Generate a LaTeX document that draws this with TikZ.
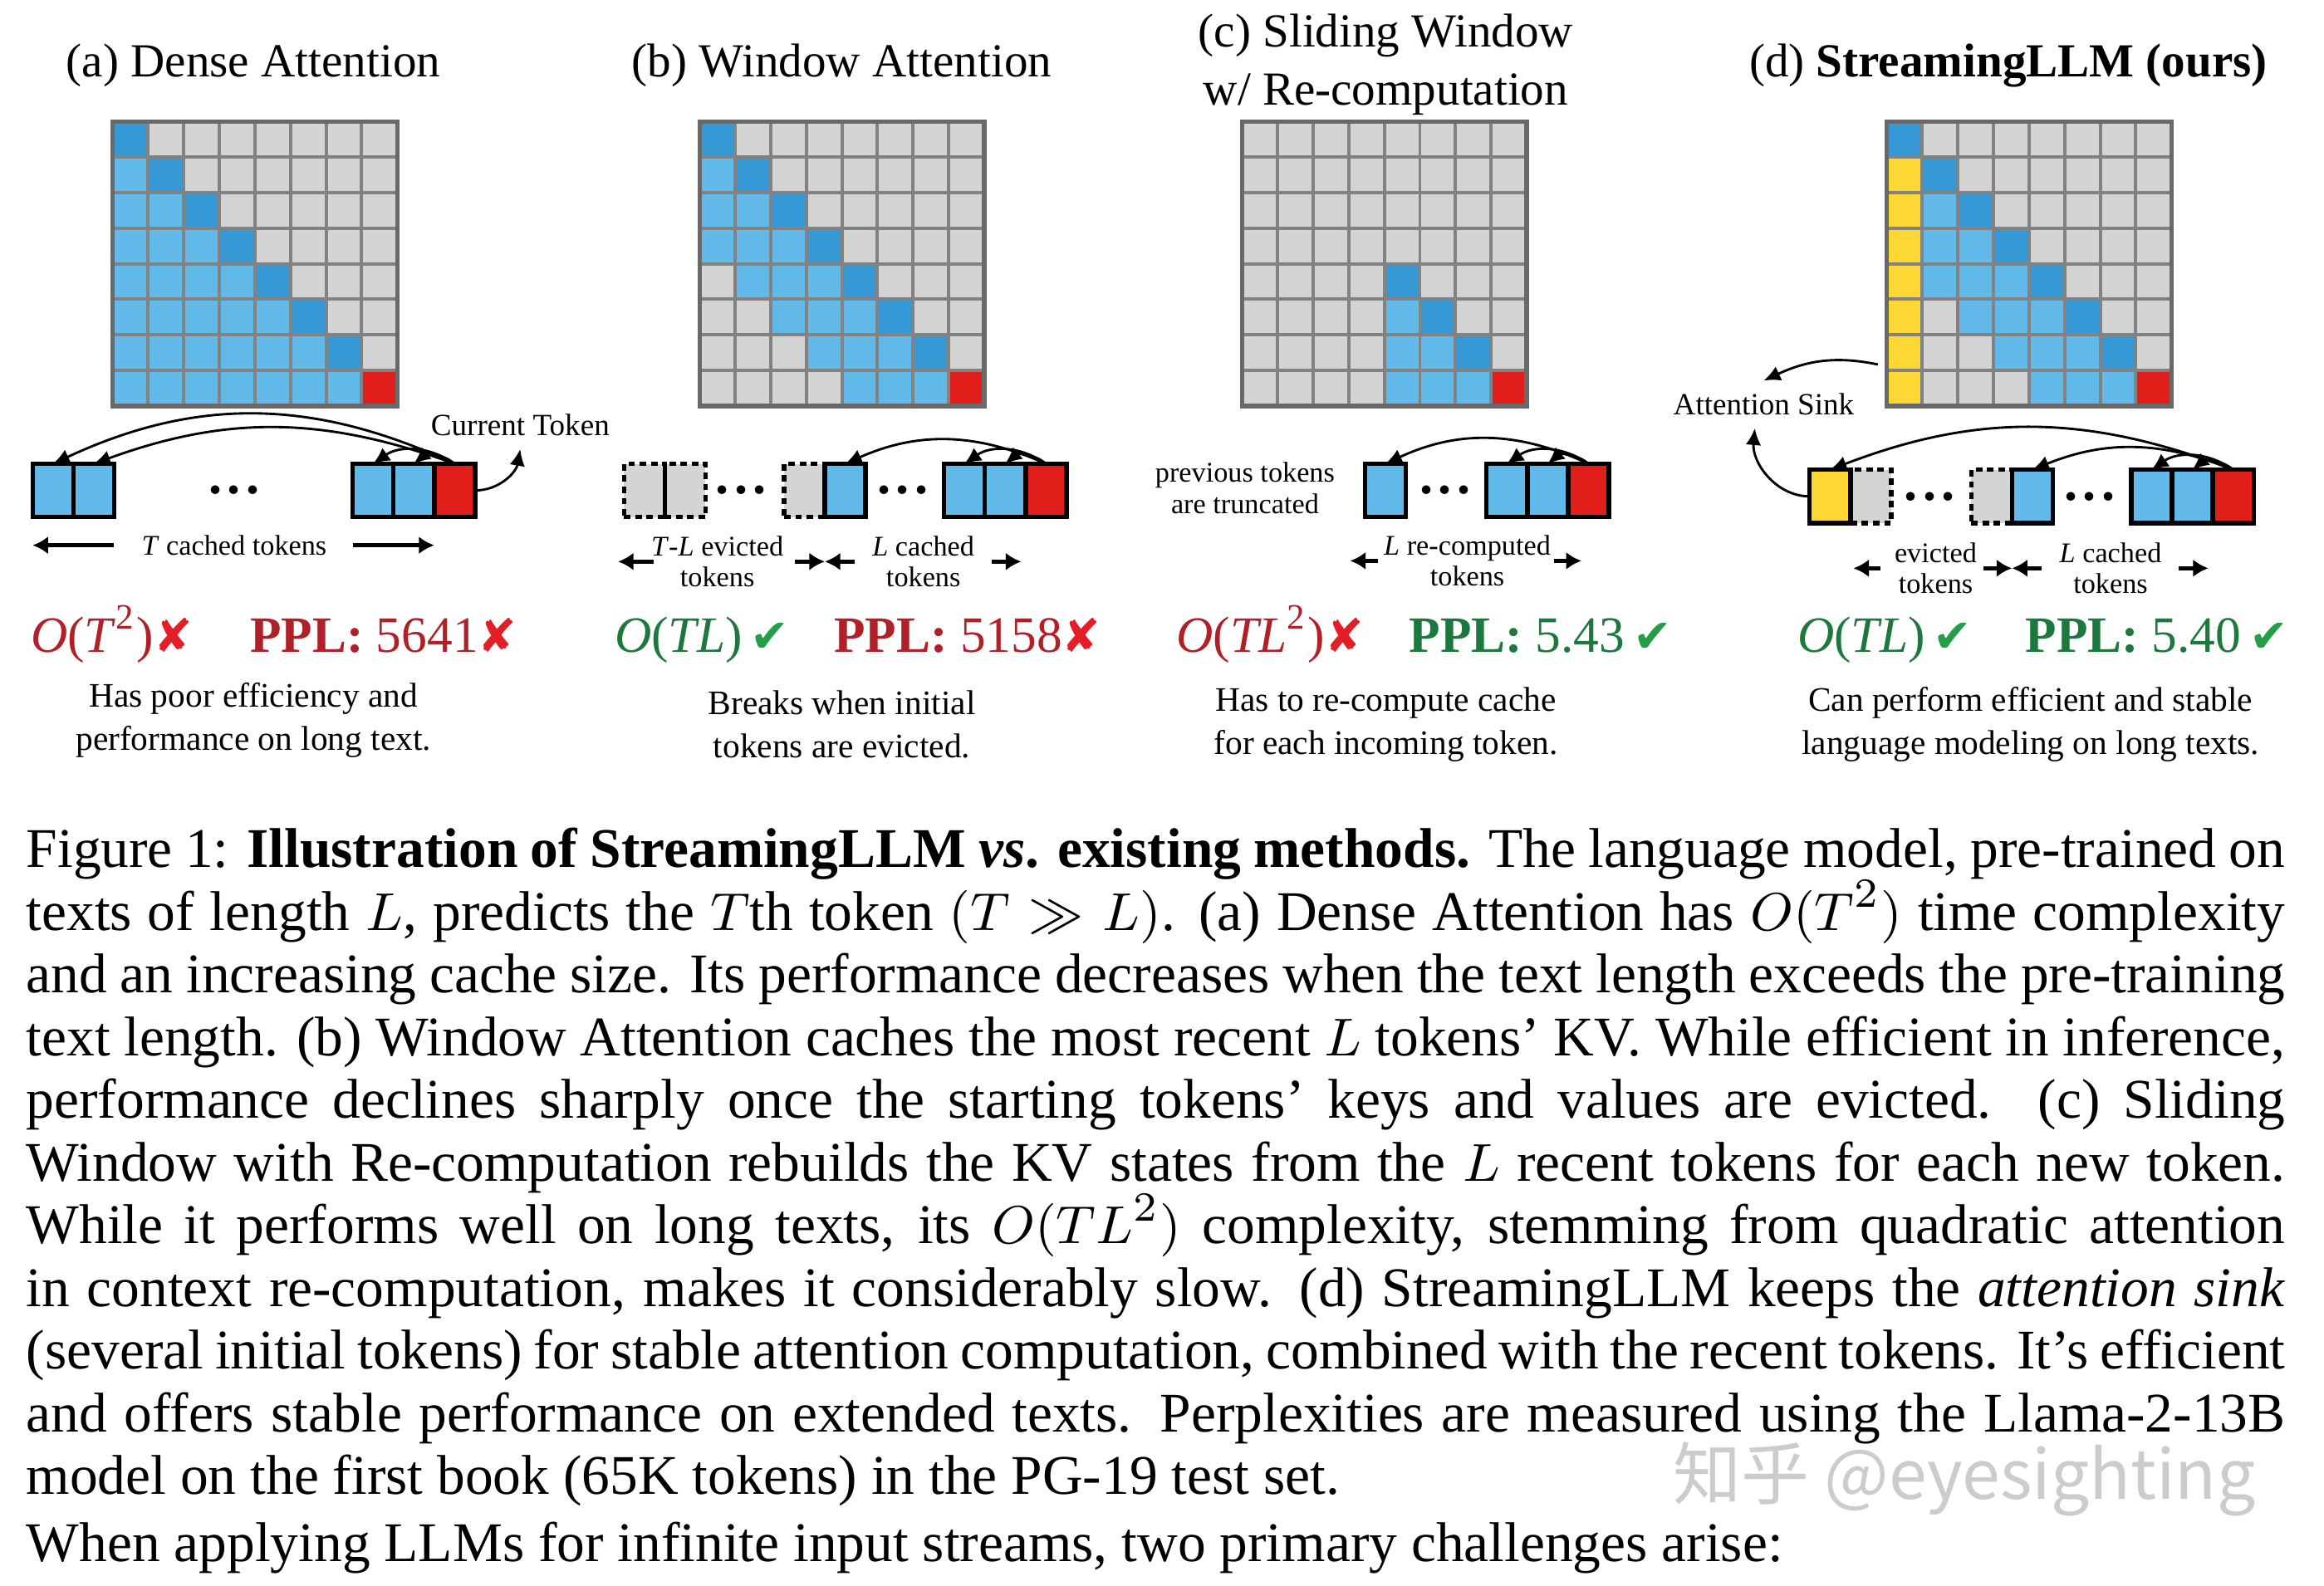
\documentclass[tikz,border=0pt]{standalone}
\usepackage{fontspec}
\setmainfont{Liberation Serif}
\newfontfamily\symfont{DejaVu Sans}
\newfontfamily\cjkfont{Noto Sans CJK SC}
\usetikzlibrary{positioning, arrows.meta}
\definecolor{cgrid}{RGB}{130,130,130}
\definecolor{cframe}{RGB}{105,105,105}
\definecolor{cg}{RGB}{212,212,212}
\definecolor{cl}{RGB}{98,186,234}
\definecolor{cd}{RGB}{54,153,213}
\definecolor{cr}{RGB}{226,30,27}
\definecolor{cy}{RGB}{253,216,53}
\definecolor{cbad}{RGB}{176,32,40}
\definecolor{cgood}{RGB}{28,120,60}
\definecolor{ccross}{RGB}{228,30,38}
\definecolor{ccheck}{RGB}{38,158,72}
\tikzset{
Token/.style={
	draw, line width=0.75pt,
	minimum width=6.875pt, minimum height=9pt,
	inner sep=0, outer sep=0,
	fill=cl
},
RedToken/.style={
	Token,
	fill=cr
},
SinkToken/.style={
	Token,
	fill=cy
},
Evicted/.style={
	Token,
	fill=cg,
	dash pattern=on 1.1pt off 0.8pt
},
Attn/.style={
	-{Latex[length=2.8pt,width=2.6pt]},
	line width=0.4pt
},
Span/.style={
	-{Latex[length=2.6pt,width=3pt]},
	line width=0.7pt
},
Title/.style={
	font=\fontsize{8}{9.75}\selectfont,
	align=center
},
Label/.style={
	font=\fontsize{5.2}{6}\selectfont,
	inner sep=2pt
},
Small/.style={
	font=\fontsize{4.8}{5.25}\selectfont,
	align=center, inner sep=0
},
Dots/.style={
	font=\fontsize{9}{9}\selectfont\bfseries,
	inner sep=0
},
Metric/.style={
	font=\fontsize{8.6}{10}\selectfont,
	anchor=base west, inner sep=0
},
Desc/.style={
	font=\fontsize{5.8}{7.25}\selectfont,
	align=center
},
Caption/.style={
	font=\fontsize{9.45}{10.5}\selectfont,
	anchor=base west, inner sep=0
}
}
\newcommand{\Bad}{{\symfont\fontsize{7.8}{7.8}\selectfont\color{ccross}✘}}
\newcommand{\Good}{{\symfont\fontsize{7.8}{7.8}\selectfont\color{ccheck}✔}}
\newcommand{\capline}[1]{\makebox[381pt][s]{#1}}
% attention map: left, top, rows of cell colours
\newcommand{\attgrid}[3]{%
	\foreach \row [count=\i] in {#3} {
		\foreach \cel [count=\j] in \row {
			\fill[fill=c\cel] ({#1+(\j-1)*24},{#2+(\i-1)*24}) rectangle ++(24,24);
		}
	}
	\foreach \k in {1,...,7} {
		\draw[cgrid, line width=0.55pt] ({#1+\k*24},#2) -- ++(0,192);
		\draw[cgrid, line width=0.55pt] (#1,{#2+\k*24}) -- ++(192,0);
	}
	\draw[cframe, line width=0.75pt] (#1,#2) rectangle ++(192,192);
}

\begin{document}
\begin{tikzpicture}[x=0.25pt, y=-0.25pt]
	\useasboundingbox (0,0) rectangle (1568,1070);
	\fill[white] (0,0) rectangle (1568,1070);

	\node[Title] (ta) at (171,44) {(a) Dense Attention};
	\node[Title] (tb) at (568,44) {(b) Window Attention};
	\node[Title] (tc) at (935,43.5) {(c) Sliding Window\\w/ Re-computation};
	\node[Title] (td) at (1355,44) {(d) \textbf{StreamingLLM (ours)}};

	\attgrid{76}{82}{{d,g,g,g,g,g,g,g},{l,d,g,g,g,g,g,g},{l,l,d,g,g,g,g,g},{l,l,l,d,g,g,g,g},
		{l,l,l,l,d,g,g,g},{l,l,l,l,l,d,g,g},{l,l,l,l,l,l,d,g},{l,l,l,l,l,l,l,r}}
	\attgrid{472}{82}{{d,g,g,g,g,g,g,g},{l,d,g,g,g,g,g,g},{l,l,d,g,g,g,g,g},{l,l,l,d,g,g,g,g},
		{g,l,l,l,d,g,g,g},{g,g,l,l,l,d,g,g},{g,g,g,l,l,l,d,g},{g,g,g,g,l,l,l,r}}
	\attgrid{838}{82}{{g,g,g,g,g,g,g,g},{g,g,g,g,g,g,g,g},{g,g,g,g,g,g,g,g},{g,g,g,g,g,g,g,g},
		{g,g,g,g,d,g,g,g},{g,g,g,g,l,d,g,g},{g,g,g,g,l,l,d,g},{g,g,g,g,l,l,l,r}}
	\attgrid{1273}{82}{{d,g,g,g,g,g,g,g},{y,d,g,g,g,g,g,g},{y,l,d,g,g,g,g,g},{y,l,l,d,g,g,g,g},
		{y,l,l,l,d,g,g,g},{y,g,l,l,l,d,g,g},{y,g,g,l,l,l,d,g},{y,g,g,g,l,l,l,r}}

	% (a) dense
	\node[Token] (a1) at (35.75,331) {};
	\node[Token, right=0pt of a1] (a2) {};
	\node[Dots] (da) at (158,331) {.\hspace{0.9pt}.\hspace{0.9pt}.};
	\node[Token] (a3) at (251.75,331) {};
	\node[Token, right=0pt of a3] (a4) {};
	\node[RedToken, right=0pt of a4] (a5) {};
	\draw[Attn] (a5.north) to[bend right=25] (a1.north);
	\draw[Attn] (a5.north) to[bend right=20] (a2.north);
	\draw[Attn] (a5.north) to[bend right=35] (a3.north);
	\draw[Attn] (a5.north) to[bend right=40] (a4.north);
	\node[Label] (cur) at (351,287) {Current Token};
	\draw[Attn] (a5.east) to[out=0, in=-100] (cur.south);
	\node[Small] (ca) at (158,368) {\textit{T} cached tokens};
	\draw[Span] (a2.east |- ca) -- (a1.west |- ca);
	\draw[Span] (a3.west |- ca) -- (a4.east |- ca);
	\node[Metric, text=cbad] (oa) at (20,440) {\textit{O}(\textit{T}\textsuperscript{2})\Bad};
	\node[Metric, text=cbad] (pa) at (168,440) {\textbf{PPL:} 5641\Bad};
	\node[Desc] (ha) at (171,486) {Has poor efficiency and\\performance on long text.};

	% (b) window
	\node[Evicted] (b1) at (434.75,331) {};
	\node[Evicted, right=0pt of b1] (b2) {};
	\draw[line width=0.75pt] (b1.north east) -- (b1.south east);
	\node[Dots] (db1) at (500,331) {.\hspace{0.9pt}.\hspace{0.9pt}.};
	\node[Evicted] (b3) at (542.75,331) {};
	\node[Token, right=0pt of b3] (b4) {};
	\node[Dots] (db2) at (609,331) {.\hspace{0.9pt}.\hspace{0.9pt}.};
	\node[Token] (b5) at (650.75,331) {};
	\node[Token, right=0pt of b5] (b6) {};
	\node[RedToken, right=0pt of b6] (b7) {};
	\draw[Attn] (b7.north) to[bend right=24] (b4.north);
	\draw[Attn] (b7.north) to[bend right=35] (b5.north);
	\draw[Attn] (b7.north) to[bend right=40] (b6.north);
	\node[Small] (evb) at (484,379) {\textit{T}-\textit{L} evicted\\tokens};
	\node[Small] (lcb) at (623,379) {\textit{L} cached\\tokens};
	\draw[Span] ([xshift=5pt]b1.west |- evb) -- ([xshift=-1pt]b1.west |- evb);
	\draw[Span] ([xshift=-5pt]b3.east |- evb) -- (b3.east |- evb);
	\draw[Span] ([xshift=5pt]b4.west |- lcb) -- (b4.west |- lcb);
	\draw[Span] ([xshift=-5.75pt]b6.east |- lcb) -- ([xshift=-0.75pt]b6.east |- lcb);
	\node[Metric, text=cgood] (ob) at (414,440) {\textit{O}(\textit{TL})\,\Good};
	\node[Metric, text=cbad] (pb) at (562,440) {\textbf{PPL:} 5158\Bad};
	\node[Desc] (hb) at (568,489) {Breaks when initial\\tokens are evicted.};

	% (c) sliding window with re-computation
	\node[Small] (prev) at (840,329.5) {previous tokens\\are truncated};
	\node[Token] (c1) at (934.75,331) {};
	\node[Dots] (dc) at (975,331) {.\hspace{0.9pt}.\hspace{0.9pt}.};
	\node[Token] (c2) at (1016.75,331) {};
	\node[Token, right=0pt of c2] (c3) {};
	\node[RedToken, right=0pt of c3] (c4) {};
	\draw[Attn] (c4.north) to[bend right=25] (c1.north);
	\draw[Attn] (c4.north) to[bend right=35] (c2.north);
	\draw[Attn] (c4.north) to[bend right=40] (c3.north);
	\node[Small] (rc) at (990,378.5) {\textit{L} re-computed\\tokens};
	\draw[Span] ([xshift=-0.8pt]rc.west) -- ([xshift=-5.5pt]rc.west);
	\draw[Span] ([xshift=0.3pt]rc.east) -- ([xshift=5pt]rc.east);
	\node[Metric, text=cbad] (oc) at (793,440) {\textit{O}(\textit{TL}\textsuperscript{2})\Bad};
	\node[Metric, text=cgood] (pc) at (950,440) {\textbf{PPL:} 5.43\,\Good};
	\node[Desc] (hc) at (935,489) {Has to re-compute cache\\for each incoming token.};

	% (d) streaming with attention sink
	\node[Label] (sink) at (1190,273) {Attention Sink};
	\coordinate (gs) at (1267,246);
	\draw[Attn] (gs) to[out=168, in=25] (sink.north);
	\node[Evicted] (d2) at (1262.25,335) {};
	\node[SinkToken, left=0pt of d2] (d1) {};
	\node[Dots] (dd1) at (1302,335) {.\hspace{0.9pt}.\hspace{0.9pt}.};
	\node[Evicted] (d3) at (1343.75,335) {};
	\node[Token, right=0pt of d3] (d4) {};
	\node[Dots] (dd2) at (1410,335) {.\hspace{0.9pt}.\hspace{0.9pt}.};
	\node[Token] (d5) at (1451.75,335) {};
	\node[Token, right=0pt of d5] (d6) {};
	\node[RedToken, right=0pt of d6] (d7) {};
	\draw[Attn] (d7.north) to[bend right=21] (d1.north);
	\draw[Attn] (d7.north) to[bend right=22] (d4.north);
	\draw[Attn] (d7.north) to[bend right=35] (d5.north);
	\draw[Attn] (d7.north) to[bend right=40] (d6.north);
	\draw[Attn] (d1.west) to[out=180, in=-95] ([xshift=-1.5pt]sink.south);
	\node[Small] (evd) at (1306,383.5) {evicted\\tokens};
	\node[Small] (lcd) at (1424,383.5) {\textit{L} cached\\tokens};
	\draw[Span] ([xshift=5pt]d2.west |- evd) -- ([xshift=0.5pt]d2.west |- evd);
	\draw[Span] ([xshift=-4.75pt]d3.east |- evd) -- (d3.east |- evd);
	\draw[Span] ([xshift=5pt]d4.west |- lcd) -- (d4.west |- lcd);
	\draw[Span] ([xshift=-5.75pt]d6.east |- lcd) -- ([xshift=-0.75pt]d6.east |- lcd);
	\node[Metric, text=cgood] (od) at (1212,440) {\textit{O}(\textit{TL})\,\Good};
	\node[Metric, text=cgood] (pd) at (1366,440) {\textbf{PPL:} 5.40\,\Good};
	\node[Desc] (hd) at (1370,489) {Can perform efficient and stable\\language modeling on long texts.};

	% caption
	\node[text=gray!40, font=\cjkfont\fontsize{11.5}{12}\selectfont, anchor=west, inner sep=0] (wm) at (1128,998) {知乎 @eyesighting};
	\node[Caption] (l1) at (17,585.5) {\capline{Figure 1: \textbf{Illustration of StreamingLLM \textit{vs}. existing methods.} The language model, pre-trained on}};
	\node[Caption] (l2) at (17,627.8) {\capline{texts of length $L$, predicts the $T$th token $(T \gg L)$. (a) Dense Attention has $O(T^2)$ time complexity}};
	\node[Caption] (l3) at (17,670.1) {\capline{and an increasing cache size. Its performance decreases when the text length exceeds the pre-training}};
	\node[Caption] (l4) at (17,712.4) {\capline{text length. (b) Window Attention caches the most recent $L$ tokens' KV. While efficient in inference,}};
	\node[Caption] (l5) at (17,754.7) {\capline{performance declines sharply once the starting tokens' keys and values are evicted.\ \ (c) Sliding}};
	\node[Caption] (l6) at (17,797) {\capline{Window with Re-computation rebuilds the KV states from the $L$ recent tokens for each new token.}};
	\node[Caption] (l7) at (17,839.3) {\capline{While it performs well on long texts, its $O(TL^2)$ complexity, stemming from quadratic attention}};
	\node[Caption] (l8) at (17,881.6) {\capline{in context re-computation, makes it considerably slow. (d) StreamingLLM keeps the \textit{attention sink}}};
	\node[Caption] (l9) at (17,923.9) {\capline{(several initial tokens) for stable attention computation, combined with the recent tokens. It's efficient}};
	\node[Caption] (l10) at (17,966.2) {\capline{and offers stable performance on extended texts. Perplexities are measured using the Llama-2-13B}};
	\node[Caption] (l11) at (17,1008.5) {model on the first book (65K tokens) in the PG-19 test set.};
	\node[Caption] (l12) at (17,1053.6) {When applying LLMs for infinite input streams, two primary challenges arise:};
\end{tikzpicture}
\end{document}
